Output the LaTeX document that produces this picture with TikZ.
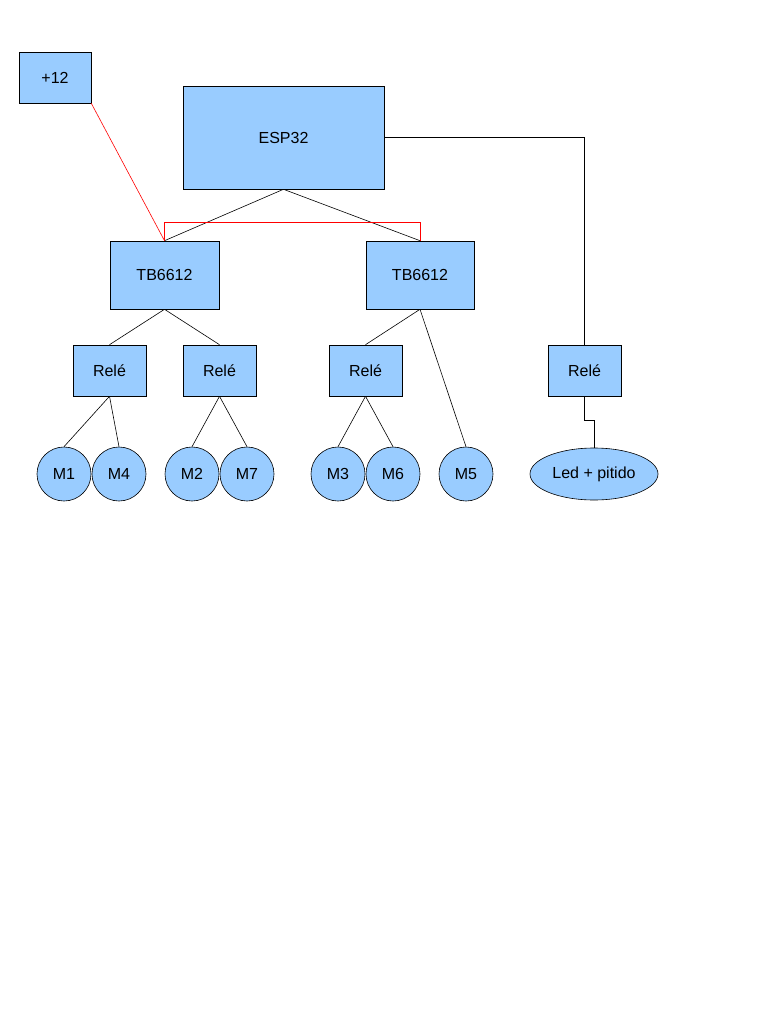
\documentclass[tikz,border=0pt]{standalone}
\usepackage{fontspec}
\setmainfont{Liberation Sans}
\usetikzlibrary{shapes.geometric}
\definecolor{fillb}{HTML}{99CCFF}
\begin{document}
\begin{tikzpicture}[x=1pt,y=-1pt,
  box/.style={draw=black,fill=fillb,line width=0.6pt,inner sep=0pt,font=\fontsize{16}{18}\selectfont},
  mot/.style={draw=black,fill=fillb,circle,minimum size=54pt,inner sep=0pt,line width=0.6pt,font=\fontsize{16}{18}\selectfont},
  wire/.style={line width=0.6pt},
  rwire/.style={line width=0.6pt,red}]
\useasboundingbox[fill=white] (0,0) rectangle (768,1024);
\node[box,minimum width=72pt,minimum height=51pt] (p12) at (55,77.5) {+12};
\node[box,minimum width=201pt,minimum height=103pt] (esp) at (283.5,137.5) {ESP32};
\node[box,minimum width=109pt,minimum height=68pt] (tbl) at (164.5,275) {TB6612};
\node[box,minimum width=108pt,minimum height=68pt] (tbr) at (420,275) {TB6612};
\foreach \n/\x in {r1/109.5,r2/219.5,r3/365.5,r4/584.5}
  \node[box,minimum width=73pt,minimum height=51pt] (\n) at (\x,370.5) {Relé};
\foreach \n/\x in {M1/64,M4/119,M2/192,M7/247,M3/338,M6/393,M5/466}
  \node[mot] (\n) at (\x,474) {\n};
\node[box,ellipse,minimum width=128pt,minimum height=52pt] (led) at (594,474) {Led + pitido};
\draw[wire] (esp.south) -- (tbl.north);
\draw[wire] (esp.south) -- (tbr.north);
\draw[rwire] (p12.south east) -- (tbl.north);
\draw[rwire] (tbl.north) -- ++(0,-18) -| (tbr.north);
\draw[wire] (esp.east) -| (r4.north);
\draw[wire] (r4.south) -- ++(0,24) -| (led.north);
\draw[wire] (tbl.south) -- (r1.north);
\draw[wire] (tbl.south) -- (r2.north);
\draw[wire] (tbr.south) -- (r3.north);
\draw[wire] (tbr.south) -- (M5.north);
\draw[wire] (r1.south) -- (M1.north);
\draw[wire] (r1.south) -- (M4.north);
\draw[wire] (r2.south) -- (M2.north);
\draw[wire] (r2.south) -- (M7.north);
\draw[wire] (r3.south) -- (M3.north);
\draw[wire] (r3.south) -- (M6.north);
\end{tikzpicture}
\end{document}
